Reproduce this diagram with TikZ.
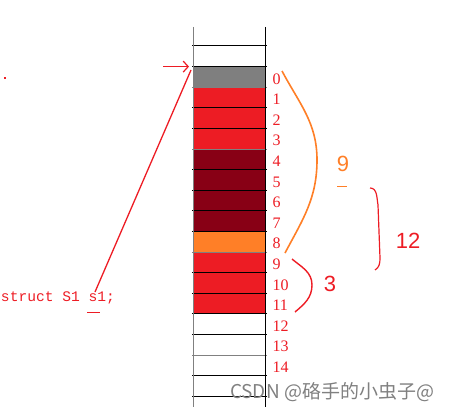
\documentclass[tikz,border=0pt]{standalone}
\usepackage{fontspec}
\setmainfont{Liberation Serif}
\setmonofont{Liberation Mono}
\newfontfamily\handfont{Liberation Sans}
\newfontfamily\cjkfont{Noto Sans CJK SC}
\usetikzlibrary{arrows.meta}
\definecolor{cellgray}{HTML}{7F7F7F}
\definecolor{cellred}{HTML}{ED1C24}
\definecolor{celldark}{HTML}{880015}
\definecolor{cellorange}{HTML}{FF7F27}

\begin{document}
\begin{tikzpicture}[x=1pt, y=-1pt, every node/.style={inner sep=0pt}, every path/.style={line width=1pt},
  idx/.style={anchor=west, text=cellred, font=\fontsize{16}{16}\selectfont},
  hand/.style={font=\handfont\fontsize{22}{22}\selectfont}]
\useasboundingbox (0,0) rectangle (452,412);
\coordinate (TL) at (193.5,27);
\coordinate (TR) at (265.5,27);
\coordinate (BL) at (193.5,407);
\coordinate (BR) at (265.5,407);
\coordinate (arr) at (163,66.6);
\coordinate (tip) at (189,66.6);
\coordinate (ptr) at (191,70);
\coordinate (s1) at (95,292);

\fill[cellgray] (193.5,66.6) rectangle (265.5,87.2); % 0
\fill[cellred] (193.5,87.2) rectangle (265.5,149); % 1-3
\fill[celldark] (193.5,149) rectangle (265.5,231.4); % 4-7
\fill[cellorange] (193.5,231.4) rectangle (265.5,252); % 8
\fill[cellred] (193.5,252) rectangle (265.5,313.8); % 9-11
%
\draw (192,46) -- (267,46);
\draw (192,66.6) -- (267,66.6);
\draw[gray] (192,87.2) -- (267,87.2);
\draw (192,107.8) -- (267,107.8);
\draw (192,128.4) -- (267,128.4);
\draw[gray] (192,149) -- (267,149);
\draw (192,169.6) -- (267,169.6);
\draw (192,190.2) -- (267,190.2);
\draw (192,210.8) -- (267,210.8);
\draw (192,231.4) -- (267,231.4);
\draw[gray] (192,252) -- (267,252);
\draw (192,272.6) -- (267,272.6);
\draw (192,293.2) -- (267,293.2);
\draw (192,313.8) -- (267,313.8);
\draw (192,334.4) -- (267,334.4);
\draw[gray] (192,355) -- (267,355);
\draw (192,375.6) -- (267,375.6);
\draw (192,396.2) -- (267,396.2);
\draw[gray] (TL) -- (BL);
\draw (TR) -- (BR);
%
\node[idx] (n0) at (272,78.9) {0};
\node[idx] (n1) at (272,99.5) {1};
\node[idx] (n2) at (272,120.1) {2};
\node[idx] (n3) at (272,140.7) {3};
\node[idx] (n4) at (272,161.3) {4};
\node[idx] (n5) at (272,181.9) {5};
\node[idx] (n6) at (272,202.5) {6};
\node[idx] (n7) at (272,223.1) {7};
\node[idx] (n8) at (272,243.7) {8};
\node[idx] (n9) at (272,264.3) {9};
\node[idx] (n10) at (272,284.9) {10};
\node[idx] (n11) at (272,305.5) {11};
\node[idx] (n12) at (272,326.1) {12};
\node[idx] (n13) at (272,346.7) {13};
\node[idx] (n14) at (272,367.3) {14};
%
\draw[cellred, line width=1.2pt, -{Straight Barb[length=5pt,width=11pt]}] (arr) -- (tip);
\draw[cellred, line width=1.3pt] (ptr) -- (s1);
\node[anchor=west, text=cellred, font=\ttfamily\fontsize{14.6}{15}\selectfont] (decl) at (0.5,298) {struct S1 s1;};
\draw[cellred] (87,312) -- (100,312);
\fill[cellred] (4,77) rectangle (6,79);
%
\draw[cellorange, line width=1.6pt] (282,71) to[out=-62,in=90] (317,160) to[out=-90,in=62] (285,253); % 9
\node[hand, text=cellorange] (nine) at (343,164) {9};
\draw[cellorange] (337,186) -- (347,186);
%
\draw[cellred, line width=1.2pt] (370,188) to[out=0,in=100] (378,205) -- (380,258) to[out=-90,in=30] (375,270); % 12
\node[hand, text=cellred] (twelve) at (408,241) {12};
%
\draw[cellred, line width=1.4pt] (292,259) to[out=-40,in=90] (312,285) to[out=-90,in=40] (295,312); % 3
\node[hand, text=cellred] (three) at (330,284) {3};
%
\node[text=gray, font=\cjkfont\fontsize{19}{19}\selectfont] (mark) at (332,392) {CSDN @硌手的小虫子@};
\end{tikzpicture}
\end{document}
